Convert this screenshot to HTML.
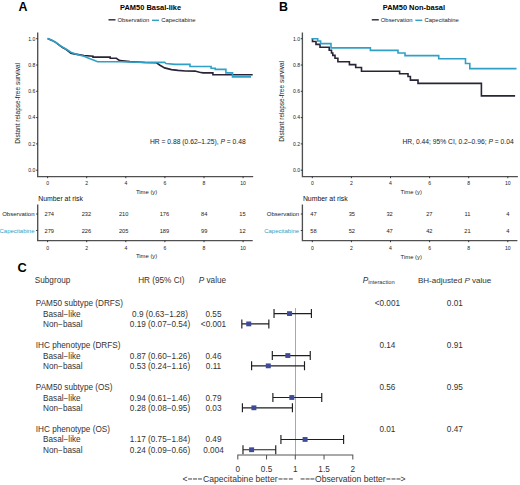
<!DOCTYPE html>
<html><head><meta charset="utf-8"><style>
html,body{margin:0;padding:0;background:#fff;}
svg{display:block;font-family:"Liberation Sans",sans-serif;}
</style></head><body>
<svg width="520" height="485" viewBox="0 0 520 485">
<rect width="520" height="485" fill="#fff"/>
<text x="18.4" y="11.3" font-size="12.4" font-weight="bold" fill="#000">A</text>
<text x="120.1" y="10.1" font-size="7.45" font-weight="bold" fill="#000">PAM50 Basal-like</text>
<line x1="108.5" y1="19.8" x2="115.5" y2="19.8" stroke="#2a2438" stroke-width="1.4"/>
<text x="117.5" y="21.6" font-size="5.88" fill="#222222">Observation</text>
<line x1="152.0" y1="20.3" x2="159.0" y2="20.3" stroke="#30a0c6" stroke-width="1.4"/>
<text x="161.3" y="21.9" font-size="5.88" fill="#222222">Capecitabine</text>
<path d="M37.7,32.4 V176.6 H253.2" fill="none" stroke="#505050" stroke-width="1.35"/>
<line x1="36.1" y1="38.7" x2="37.7" y2="38.7" stroke="#222" stroke-width="0.9"/>
<text x="35.300000000000004" y="40.5" font-size="5.1" text-anchor="end" fill="#222222">1.0</text>
<line x1="36.1" y1="65.0" x2="37.7" y2="65.0" stroke="#222" stroke-width="0.9"/>
<text x="35.300000000000004" y="66.8" font-size="5.1" text-anchor="end" fill="#222222">0.8</text>
<line x1="36.1" y1="91.30000000000001" x2="37.7" y2="91.30000000000001" stroke="#222" stroke-width="0.9"/>
<text x="35.300000000000004" y="93.10000000000001" font-size="5.1" text-anchor="end" fill="#222222">0.6</text>
<line x1="36.1" y1="117.60000000000001" x2="37.7" y2="117.60000000000001" stroke="#222" stroke-width="0.9"/>
<text x="35.300000000000004" y="119.4" font-size="5.1" text-anchor="end" fill="#222222">0.4</text>
<line x1="36.1" y1="143.9" x2="37.7" y2="143.9" stroke="#222" stroke-width="0.9"/>
<text x="35.300000000000004" y="145.70000000000002" font-size="5.1" text-anchor="end" fill="#222222">0.2</text>
<line x1="36.1" y1="170.2" x2="37.7" y2="170.2" stroke="#222" stroke-width="0.9"/>
<text x="35.300000000000004" y="172.0" font-size="5.1" text-anchor="end" fill="#222222">0.0</text>
<line x1="47.6" y1="176.6" x2="47.6" y2="178.2" stroke="#222" stroke-width="0.9"/>
<text x="47.6" y="184.6" font-size="5.1" text-anchor="middle" fill="#222222">0</text>
<line x1="86.7" y1="176.6" x2="86.7" y2="178.2" stroke="#222" stroke-width="0.9"/>
<text x="86.7" y="184.6" font-size="5.1" text-anchor="middle" fill="#222222">2</text>
<line x1="125.80000000000001" y1="176.6" x2="125.80000000000001" y2="178.2" stroke="#222" stroke-width="0.9"/>
<text x="125.80000000000001" y="184.6" font-size="5.1" text-anchor="middle" fill="#222222">4</text>
<line x1="164.9" y1="176.6" x2="164.9" y2="178.2" stroke="#222" stroke-width="0.9"/>
<text x="164.9" y="184.6" font-size="5.1" text-anchor="middle" fill="#222222">6</text>
<line x1="204.0" y1="176.6" x2="204.0" y2="178.2" stroke="#222" stroke-width="0.9"/>
<text x="204.0" y="184.6" font-size="5.1" text-anchor="middle" fill="#222222">8</text>
<line x1="243.1" y1="176.6" x2="243.1" y2="178.2" stroke="#222" stroke-width="0.9"/>
<text x="243.1" y="184.6" font-size="5.1" text-anchor="middle" fill="#222222">10</text>
<text x="146.6" y="193.6" font-size="5.9" text-anchor="middle" fill="#222222">Time (y)</text>
<text transform="translate(20.2,103.4) rotate(-90)" font-size="6.53" text-anchor="middle" fill="#222222">Distant relapse-free survival</text>
<text x="150.0" y="143.6" font-size="6.72" fill="#222222">HR = 0.88 (0.62–1.25), <tspan font-style="italic">P</tspan> = 0.48</text>
<polyline points="47.6,38.6 52,40.4 56,42.6 60.2,45.9 63,47.8 66.3,49.6 68.5,51.4 70.9,53.2 74,53.9 77.1,54.4 84,55.5 93,56.3 93,57.1 110.2,57.1 110.2,58.3 116.5,58.3 118,59.5 120,60.6 130,61.6 145,62.5 156.5,62.8 160,65.2 164.6,67.9 171.5,69.6 178,70.4 185.4,71 195,71.1 199.6,72.3 203,72.9 212.9,72.9 212.9,74.8 252.7,74.8" fill="none" stroke="#2a2438" stroke-width="1.6" stroke-linejoin="miter"/>
<polyline points="47.6,38.6 52,40.3 56,42.5 60.2,45.6 66.3,49.2 70.9,52.2 77,54.4 84,56.2 90,58.8 94,60.3 97.5,61.7 120,61.7 145,62.4 164.6,62.2 166,63.6 175,64.4 190,64.4 190,66.5 211.1,66.5 211.1,68.3 215.2,68.3 215.2,69.4 225.9,69.4 225.9,72.9 232.5,72.9 232.5,76.9 251,76.9" fill="none" stroke="#30a0c6" stroke-width="1.6" stroke-linejoin="miter"/>
<text x="38.2" y="200.6" font-size="6.9" fill="#111">Number at risk</text>
<path d="M37.7,204.6 V240.6 H252.7" fill="none" stroke="#505050" stroke-width="1.35"/>
<line x1="36.1" y1="214.0" x2="37.7" y2="214.0" stroke="#222" stroke-width="0.9"/>
<text x="34.5" y="216.1" font-size="6.0" text-anchor="end" fill="#222222">Observation</text>
<text x="49.3" y="216.0" font-size="5.7" text-anchor="middle" fill="#222222">274</text>
<text x="86.4" y="216.0" font-size="5.7" text-anchor="middle" fill="#222222">232</text>
<text x="123.7" y="216.0" font-size="5.7" text-anchor="middle" fill="#222222">210</text>
<text x="164.4" y="216.0" font-size="5.7" text-anchor="middle" fill="#222222">176</text>
<text x="204.2" y="216.0" font-size="5.7" text-anchor="middle" fill="#222222">84</text>
<text x="242.4" y="216.0" font-size="5.7" text-anchor="middle" fill="#222222">15</text>
<line x1="36.1" y1="230.5" x2="37.7" y2="230.5" stroke="#222" stroke-width="0.9"/>
<text x="34.5" y="232.6" font-size="6.0" text-anchor="end" fill="#30a0c6">Capecitabine</text>
<text x="49.3" y="232.5" font-size="5.7" text-anchor="middle" fill="#222222">279</text>
<text x="86.4" y="232.5" font-size="5.7" text-anchor="middle" fill="#222222">226</text>
<text x="123.7" y="232.5" font-size="5.7" text-anchor="middle" fill="#222222">205</text>
<text x="164.4" y="232.5" font-size="5.7" text-anchor="middle" fill="#222222">189</text>
<text x="204.2" y="232.5" font-size="5.7" text-anchor="middle" fill="#222222">99</text>
<text x="242.4" y="232.5" font-size="5.7" text-anchor="middle" fill="#222222">12</text>
<line x1="47.6" y1="240.6" x2="47.6" y2="242.2" stroke="#222" stroke-width="0.9"/>
<text x="47.6" y="249.8" font-size="5.1" text-anchor="middle" fill="#222222">0</text>
<line x1="86.7" y1="240.6" x2="86.7" y2="242.2" stroke="#222" stroke-width="0.9"/>
<text x="86.7" y="249.8" font-size="5.1" text-anchor="middle" fill="#222222">2</text>
<line x1="125.80000000000001" y1="240.6" x2="125.80000000000001" y2="242.2" stroke="#222" stroke-width="0.9"/>
<text x="125.80000000000001" y="249.8" font-size="5.1" text-anchor="middle" fill="#222222">4</text>
<line x1="164.9" y1="240.6" x2="164.9" y2="242.2" stroke="#222" stroke-width="0.9"/>
<text x="164.9" y="249.8" font-size="5.1" text-anchor="middle" fill="#222222">6</text>
<line x1="204.0" y1="240.6" x2="204.0" y2="242.2" stroke="#222" stroke-width="0.9"/>
<text x="204.0" y="249.8" font-size="5.1" text-anchor="middle" fill="#222222">8</text>
<line x1="243.1" y1="240.6" x2="243.1" y2="242.2" stroke="#222" stroke-width="0.9"/>
<text x="243.1" y="249.8" font-size="5.1" text-anchor="middle" fill="#222222">10</text>
<text x="146.6" y="258.2" font-size="5.9" text-anchor="middle" fill="#222222">Time (y)</text>
<text x="278.9" y="11.3" font-size="12.4" font-weight="bold" fill="#000">B</text>
<text x="382.8" y="10.1" font-size="7.45" font-weight="bold" fill="#000">PAM50 Non-basal</text>
<line x1="371.8" y1="19.8" x2="378.8" y2="19.8" stroke="#2a2438" stroke-width="1.4"/>
<text x="380.8" y="21.6" font-size="5.88" fill="#222222">Observation</text>
<line x1="415.3" y1="20.3" x2="422.3" y2="20.3" stroke="#30a0c6" stroke-width="1.4"/>
<text x="424.6" y="21.9" font-size="5.88" fill="#222222">Capecitabine</text>
<path d="M302.4,32.4 V176.6 H517.9" fill="none" stroke="#505050" stroke-width="1.35"/>
<line x1="300.79999999999995" y1="38.7" x2="302.4" y2="38.7" stroke="#222" stroke-width="0.9"/>
<text x="300.0" y="40.5" font-size="5.1" text-anchor="end" fill="#222222">1.0</text>
<line x1="300.79999999999995" y1="65.0" x2="302.4" y2="65.0" stroke="#222" stroke-width="0.9"/>
<text x="300.0" y="66.8" font-size="5.1" text-anchor="end" fill="#222222">0.8</text>
<line x1="300.79999999999995" y1="91.30000000000001" x2="302.4" y2="91.30000000000001" stroke="#222" stroke-width="0.9"/>
<text x="300.0" y="93.10000000000001" font-size="5.1" text-anchor="end" fill="#222222">0.6</text>
<line x1="300.79999999999995" y1="117.60000000000001" x2="302.4" y2="117.60000000000001" stroke="#222" stroke-width="0.9"/>
<text x="300.0" y="119.4" font-size="5.1" text-anchor="end" fill="#222222">0.4</text>
<line x1="300.79999999999995" y1="143.9" x2="302.4" y2="143.9" stroke="#222" stroke-width="0.9"/>
<text x="300.0" y="145.70000000000002" font-size="5.1" text-anchor="end" fill="#222222">0.2</text>
<line x1="300.79999999999995" y1="170.2" x2="302.4" y2="170.2" stroke="#222" stroke-width="0.9"/>
<text x="300.0" y="172.0" font-size="5.1" text-anchor="end" fill="#222222">0.0</text>
<line x1="312.29999999999995" y1="176.6" x2="312.29999999999995" y2="178.2" stroke="#222" stroke-width="0.9"/>
<text x="312.29999999999995" y="184.6" font-size="5.1" text-anchor="middle" fill="#222222">0</text>
<line x1="351.4" y1="176.6" x2="351.4" y2="178.2" stroke="#222" stroke-width="0.9"/>
<text x="351.4" y="184.6" font-size="5.1" text-anchor="middle" fill="#222222">2</text>
<line x1="390.49999999999994" y1="176.6" x2="390.49999999999994" y2="178.2" stroke="#222" stroke-width="0.9"/>
<text x="390.49999999999994" y="184.6" font-size="5.1" text-anchor="middle" fill="#222222">4</text>
<line x1="429.59999999999997" y1="176.6" x2="429.59999999999997" y2="178.2" stroke="#222" stroke-width="0.9"/>
<text x="429.59999999999997" y="184.6" font-size="5.1" text-anchor="middle" fill="#222222">6</text>
<line x1="468.69999999999993" y1="176.6" x2="468.69999999999993" y2="178.2" stroke="#222" stroke-width="0.9"/>
<text x="468.69999999999993" y="184.6" font-size="5.1" text-anchor="middle" fill="#222222">8</text>
<line x1="507.79999999999995" y1="176.6" x2="507.79999999999995" y2="178.2" stroke="#222" stroke-width="0.9"/>
<text x="507.79999999999995" y="184.6" font-size="5.1" text-anchor="middle" fill="#222222">10</text>
<text x="411.29999999999995" y="193.87" font-size="5.9" text-anchor="middle" fill="#222222">Time (y)</text>
<text transform="translate(284.1,101.4) rotate(-90)" font-size="6.53" text-anchor="middle" fill="#222222">Distant relapse-free survival</text>
<text x="402.5" y="143.6" font-size="6.72" fill="#222222">HR, 0.44; 95% CI, 0.2–0.96; <tspan font-style="italic">P</tspan> = 0.04</text>
<polyline points="311.7,38.8 312.5,38.8 312.5,41.5 316,41.5 316,44.4 320,44.4 320,47.3 329.2,47.3 329.2,50.2 331.5,50.2 331.5,53 332.8,53 332.8,55.4 335,55.4 335,58.3 337.9,58.3 337.9,61.7 349.4,61.7 349.4,64.6 355.7,64.6 355.7,67.5 361.5,67.5 361.5,71.2 399.6,71.2 399.6,73.8 408,73.8 408,76.5 410.4,76.5 410.4,80.1 418,80.1 418,83.4 481.4,83.4 481.4,95.9 515.1,95.9" fill="none" stroke="#2a2438" stroke-width="1.6" stroke-linejoin="miter"/>
<polyline points="311.7,38.8 317.7,38.8 317.7,41 320.6,41 320.6,43.6 331,43.6 331,47.9 370.4,47.9 370.4,50.4 398,50.4 398,53 405,53 405,55.6 438.7,55.6 438.7,58.7 465.5,58.7 465.5,63.5 469.8,63.5 469.8,68.6 516.5,68.6" fill="none" stroke="#30a0c6" stroke-width="1.6" stroke-linejoin="miter"/>
<text x="302.9" y="200.6" font-size="6.9" fill="#111">Number at risk</text>
<path d="M302.4,204.6 V240.6 H517.4" fill="none" stroke="#505050" stroke-width="1.35"/>
<line x1="300.79999999999995" y1="214.0" x2="302.4" y2="214.0" stroke="#222" stroke-width="0.9"/>
<text x="299.2" y="216.1" font-size="6.0" text-anchor="end" fill="#222222">Observation</text>
<text x="313.5" y="216.0" font-size="5.7" text-anchor="middle" fill="#222222">47</text>
<text x="351.8" y="216.0" font-size="5.7" text-anchor="middle" fill="#222222">35</text>
<text x="389.6" y="216.0" font-size="5.7" text-anchor="middle" fill="#222222">32</text>
<text x="429.3" y="216.0" font-size="5.7" text-anchor="middle" fill="#222222">27</text>
<text x="467.4" y="216.0" font-size="5.7" text-anchor="middle" fill="#222222">11</text>
<text x="507.9" y="216.0" font-size="5.7" text-anchor="middle" fill="#222222">4</text>
<line x1="300.79999999999995" y1="230.5" x2="302.4" y2="230.5" stroke="#222" stroke-width="0.9"/>
<text x="299.2" y="232.6" font-size="6.0" text-anchor="end" fill="#30a0c6">Capecitabine</text>
<text x="313.5" y="232.5" font-size="5.7" text-anchor="middle" fill="#222222">58</text>
<text x="351.8" y="232.5" font-size="5.7" text-anchor="middle" fill="#222222">52</text>
<text x="389.6" y="232.5" font-size="5.7" text-anchor="middle" fill="#222222">47</text>
<text x="429.3" y="232.5" font-size="5.7" text-anchor="middle" fill="#222222">42</text>
<text x="467.4" y="232.5" font-size="5.7" text-anchor="middle" fill="#222222">21</text>
<text x="507.9" y="232.5" font-size="5.7" text-anchor="middle" fill="#222222">4</text>
<line x1="312.29999999999995" y1="240.6" x2="312.29999999999995" y2="242.2" stroke="#222" stroke-width="0.9"/>
<text x="312.29999999999995" y="249.8" font-size="5.1" text-anchor="middle" fill="#222222">0</text>
<line x1="351.4" y1="240.6" x2="351.4" y2="242.2" stroke="#222" stroke-width="0.9"/>
<text x="351.4" y="249.8" font-size="5.1" text-anchor="middle" fill="#222222">2</text>
<line x1="390.49999999999994" y1="240.6" x2="390.49999999999994" y2="242.2" stroke="#222" stroke-width="0.9"/>
<text x="390.49999999999994" y="249.8" font-size="5.1" text-anchor="middle" fill="#222222">4</text>
<line x1="429.59999999999997" y1="240.6" x2="429.59999999999997" y2="242.2" stroke="#222" stroke-width="0.9"/>
<text x="429.59999999999997" y="249.8" font-size="5.1" text-anchor="middle" fill="#222222">6</text>
<line x1="468.69999999999993" y1="240.6" x2="468.69999999999993" y2="242.2" stroke="#222" stroke-width="0.9"/>
<text x="468.69999999999993" y="249.8" font-size="5.1" text-anchor="middle" fill="#222222">8</text>
<line x1="507.79999999999995" y1="240.6" x2="507.79999999999995" y2="242.2" stroke="#222" stroke-width="0.9"/>
<text x="507.79999999999995" y="249.8" font-size="5.1" text-anchor="middle" fill="#222222">10</text>
<text x="411.29999999999995" y="259.09999999999997" font-size="5.9" text-anchor="middle" fill="#222222">Time (y)</text>
<text x="17.5" y="272.3" font-size="12.8" font-weight="bold" fill="#000">C</text>
<text x="34.8" y="282.6" font-size="8.2" fill="#333">Subgroup</text>
<text x="161.4" y="282.6" font-size="8.2" text-anchor="middle" fill="#333">HR (95% CI)</text>
<text x="212.4" y="282.6" font-size="8.2" text-anchor="middle" fill="#333"><tspan font-style="italic">P</tspan> value</text>
<text x="362.8" y="282.6" font-size="8.2" font-style="italic" fill="#333">P</text>
<text x="368.2" y="284.3" font-size="5.75" fill="#333">interaction</text>
<text x="454.6" y="283" font-size="8.05" text-anchor="middle" fill="#333">BH-adjusted <tspan font-style="italic">P</tspan> value</text>
<line x1="295.5" y1="308" x2="295.5" y2="455" stroke="#a8a8a8" stroke-width="1"/>
<text x="35.8" y="306.40" font-size="8.2" fill="#333">PAM50 subtype (DRFS)</text>
<text x="387.4" y="306.40" font-size="8.2" text-anchor="middle" fill="#333">&lt;0.001</text>
<text x="454.8" y="306.40" font-size="8.2" text-anchor="middle" fill="#333">0.01</text>
<text x="43.1" y="316.60" font-size="8.2" fill="#333">Basal−like</text>
<text x="160" y="316.60" font-size="8.2" text-anchor="middle" fill="#333">0.9 (0.63−1.28)</text>
<text x="213.5" y="316.60" font-size="8.2" text-anchor="middle" fill="#333">0.55</text>
<path d="M274.03,309.10 V318.10 M274.03,313.60 H311.40 M311.40,309.10 V318.10" fill="none" stroke="#1e1e1e" stroke-width="1.15"/>
<rect x="287.05" y="311.20" width="5" height="4.8" fill="#3d4b98"/>
<text x="43.1" y="326.90" font-size="8.2" fill="#333">Non−basal</text>
<text x="160" y="326.90" font-size="8.2" text-anchor="middle" fill="#333">0.19 (0.07−0.54)</text>
<text x="213.5" y="326.90" font-size="8.2" text-anchor="middle" fill="#333">&lt;0.001</text>
<path d="M241.83,319.40 V328.40 M241.83,323.90 H268.85 M268.85,319.40 V328.40" fill="none" stroke="#1e1e1e" stroke-width="1.15"/>
<rect x="246.23" y="321.50" width="5" height="4.8" fill="#3d4b98"/>
<text x="35.8" y="348.35" font-size="8.2" fill="#333">IHC phenotype (DRFS)</text>
<text x="387.4" y="348.35" font-size="8.2" text-anchor="middle" fill="#333">0.14</text>
<text x="454.8" y="348.35" font-size="8.2" text-anchor="middle" fill="#333">0.91</text>
<text x="43.1" y="358.55" font-size="8.2" fill="#333">Basal−like</text>
<text x="160" y="358.55" font-size="8.2" text-anchor="middle" fill="#333">0.87 (0.60−1.26)</text>
<text x="213.5" y="358.55" font-size="8.2" text-anchor="middle" fill="#333">0.46</text>
<path d="M272.30,351.05 V360.05 M272.30,355.55 H310.25 M310.25,351.05 V360.05" fill="none" stroke="#1e1e1e" stroke-width="1.15"/>
<rect x="285.32" y="353.15" width="5" height="4.8" fill="#3d4b98"/>
<text x="43.1" y="368.85" font-size="8.2" fill="#333">Non−basal</text>
<text x="160" y="368.85" font-size="8.2" text-anchor="middle" fill="#333">0.53 (0.24−1.16)</text>
<text x="213.5" y="368.85" font-size="8.2" text-anchor="middle" fill="#333">0.11</text>
<path d="M251.60,361.35 V370.35 M251.60,365.85 H304.50 M304.50,361.35 V370.35" fill="none" stroke="#1e1e1e" stroke-width="1.15"/>
<rect x="265.78" y="363.45" width="5" height="4.8" fill="#3d4b98"/>
<text x="35.8" y="390.30" font-size="8.2" fill="#333">PAM50 subtype (OS)</text>
<text x="387.4" y="390.30" font-size="8.2" text-anchor="middle" fill="#333">0.56</text>
<text x="454.8" y="390.30" font-size="8.2" text-anchor="middle" fill="#333">0.95</text>
<text x="43.1" y="400.50" font-size="8.2" fill="#333">Basal−like</text>
<text x="160" y="400.50" font-size="8.2" text-anchor="middle" fill="#333">0.94 (0.61−1.46)</text>
<text x="213.5" y="400.50" font-size="8.2" text-anchor="middle" fill="#333">0.79</text>
<path d="M272.88,393.00 V402.00 M272.88,397.50 H321.75 M321.75,393.00 V402.00" fill="none" stroke="#1e1e1e" stroke-width="1.15"/>
<rect x="289.35" y="395.10" width="5" height="4.8" fill="#3d4b98"/>
<text x="43.1" y="410.80" font-size="8.2" fill="#333">Non−basal</text>
<text x="160" y="410.80" font-size="8.2" text-anchor="middle" fill="#333">0.28 (0.08−0.95)</text>
<text x="213.5" y="410.80" font-size="8.2" text-anchor="middle" fill="#333">0.03</text>
<path d="M242.40,403.30 V412.30 M242.40,407.80 H292.43 M292.43,403.30 V412.30" fill="none" stroke="#1e1e1e" stroke-width="1.15"/>
<rect x="251.40" y="405.40" width="5" height="4.8" fill="#3d4b98"/>
<text x="35.8" y="432.25" font-size="8.2" fill="#333">IHC phenotype (OS)</text>
<text x="387.4" y="432.25" font-size="8.2" text-anchor="middle" fill="#333">0.01</text>
<text x="454.8" y="432.25" font-size="8.2" text-anchor="middle" fill="#333">0.47</text>
<text x="43.1" y="442.45" font-size="8.2" fill="#333">Basal−like</text>
<text x="160" y="442.45" font-size="8.2" text-anchor="middle" fill="#333">1.17 (0.75−1.84)</text>
<text x="213.5" y="442.45" font-size="8.2" text-anchor="middle" fill="#333">0.49</text>
<path d="M280.93,434.95 V443.95 M280.93,439.45 H343.60 M343.60,434.95 V443.95" fill="none" stroke="#1e1e1e" stroke-width="1.15"/>
<rect x="302.57" y="437.05" width="5" height="4.8" fill="#3d4b98"/>
<text x="43.1" y="452.75" font-size="8.2" fill="#333">Non−basal</text>
<text x="160" y="452.75" font-size="8.2" text-anchor="middle" fill="#333">0.24 (0.09−0.66)</text>
<text x="213.5" y="452.75" font-size="8.2" text-anchor="middle" fill="#333">0.004</text>
<path d="M242.98,445.25 V454.25 M242.98,449.75 H275.75 M275.75,445.25 V454.25" fill="none" stroke="#1e1e1e" stroke-width="1.15"/>
<rect x="249.10" y="447.35" width="5" height="4.8" fill="#3d4b98"/>
<path d="M237.8,459.6 V454.9 H352.8 V459.6 M266.55,454.9 V459.6 M295.3,454.9 V459.6 M324.05,454.9 V459.6" fill="none" stroke="#555" stroke-width="1.05"/>
<text x="237.80" y="472.4" font-size="8.2" text-anchor="middle" fill="#333">0</text>
<text x="266.55" y="472.4" font-size="8.2" text-anchor="middle" fill="#333">0.5</text>
<text x="295.30" y="472.4" font-size="8.2" text-anchor="middle" fill="#333">1</text>
<text x="324.05" y="472.4" font-size="8.2" text-anchor="middle" fill="#333">1.5</text>
<text x="352.80" y="472.4" font-size="8.2" text-anchor="middle" fill="#333">2</text>
<text x="182.6" y="482" font-size="8.6" fill="#333">&lt;</text>
<text x="203.0" y="482" font-size="8.6" fill="#333">Capecitabine better</text>
<text x="315.0" y="482" font-size="8.6" fill="#333">Observation better</text>
<text x="400.4" y="482" font-size="8.6" fill="#333">&gt;</text>
<rect x="188.1" y="478.5" width="4" height="0.95" fill="#333"/>
<rect x="193.0" y="478.5" width="4" height="0.95" fill="#333"/>
<rect x="197.9" y="478.5" width="4" height="0.95" fill="#333"/>
<rect x="278.5" y="478.5" width="4" height="0.95" fill="#333"/>
<rect x="283.5" y="478.5" width="4" height="0.95" fill="#333"/>
<rect x="288.8" y="478.5" width="4" height="0.95" fill="#333"/>
<rect x="300.6" y="478.5" width="4" height="0.95" fill="#333"/>
<rect x="305.6" y="478.5" width="4" height="0.95" fill="#333"/>
<rect x="310.4" y="478.5" width="4" height="0.95" fill="#333"/>
<rect x="386.4" y="478.5" width="4" height="0.95" fill="#333"/>
<rect x="391.5" y="478.5" width="4" height="0.95" fill="#333"/>
<rect x="396.5" y="478.5" width="4" height="0.95" fill="#333"/>
</svg>
</body></html>
